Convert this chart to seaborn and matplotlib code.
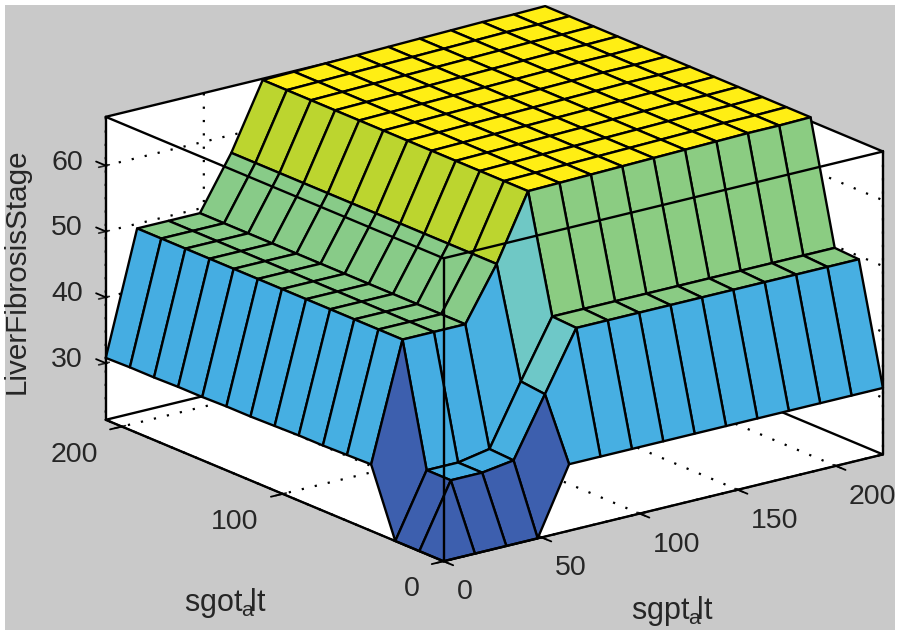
import numpy as np
import matplotlib
matplotlib.use("Agg")
import matplotlib.pyplot as plt
from matplotlib.colors import LinearSegmentedColormap, Normalize
from matplotlib.patches import Rectangle
from mpl_toolkits.mplot3d import proj3d
import seaborn as sns

sgpt_grid = [0, 16, 32, 48, 64, 80, 96, 112, 128, 144, 160, 176, 192, 208, 224]
sgot_grid = [0, 15, 30, 45, 60, 75, 90, 105, 120, 135, 150, 165, 180, 195, 210]

# one row per sgot value, one column per sgpt value
stage = [
    [21.4, 21.4, 21.4, 21.4, 31.5, 31.5, 31.5, 31.5, 31.5, 31.5, 31.5, 31.5, 31.5, 31.5, 31.5],
    [21.4, 31.0, 31.0, 31.7, 40.6, 49.5, 49.5, 49.5, 49.5, 49.5, 49.5, 49.5, 49.5, 49.5, 49.5],
    [21.4, 31.0, 31.0, 31.9, 41.0, 49.7, 49.7, 49.7, 49.7, 49.7, 49.7, 49.7, 49.7, 49.7, 49.7],
    [31.5, 49.3, 49.3, 49.3, 57.3, 67.2, 67.3, 67.4, 67.5, 67.6, 67.7, 67.8, 67.9, 67.9, 68.0],
    [31.4, 49.3, 49.3, 49.3, 57.3, 67.2, 67.3, 67.4, 67.5, 67.6, 67.7, 67.8, 67.9, 67.9, 68.0],
    [31.3, 49.3, 49.3, 49.3, 57.3, 67.2, 67.3, 67.4, 67.5, 67.6, 67.7, 67.8, 67.9, 67.9, 68.0],
    [31.3, 49.3, 49.3, 49.3, 57.3, 67.2, 67.3, 67.4, 67.5, 67.6, 67.7, 67.8, 67.9, 67.9, 68.0],
    [31.2, 49.3, 49.3, 49.3, 57.3, 67.2, 67.3, 67.4, 67.5, 67.6, 67.7, 67.8, 67.9, 67.9, 68.0],
    [31.1, 49.3, 49.3, 49.3, 57.3, 67.2, 67.3, 67.4, 67.5, 67.6, 67.7, 67.8, 67.9, 67.9, 68.0],
    [31.1, 49.3, 49.3, 49.3, 57.3, 67.2, 67.3, 67.4, 67.5, 67.6, 67.7, 67.8, 67.9, 67.9, 68.0],
    [31.0, 49.3, 49.3, 49.3, 57.3, 67.2, 67.3, 67.4, 67.5, 67.6, 67.7, 67.8, 67.9, 67.9, 68.0],
    [31.0, 49.3, 49.3, 49.3, 57.3, 67.2, 67.3, 67.4, 67.5, 67.6, 67.7, 67.8, 67.9, 67.9, 68.0],
    [30.9, 49.3, 49.3, 49.3, 57.3, 67.2, 67.3, 67.4, 67.5, 67.6, 67.7, 67.8, 67.9, 67.9, 68.0],
    [30.9, 49.3, 49.3, 49.3, 57.3, 67.2, 67.3, 67.4, 67.5, 67.6, 67.7, 67.8, 67.9, 67.9, 68.0],
    [30.8, 49.3, 49.3, 49.3, 57.3, 67.2, 67.3, 67.4, 67.5, 67.6, 67.7, 67.8, 67.9, 67.9, 68.0],
]

x_ticks = [0, 50, 100, 150, 200]
y_ticks = [0, 100, 200]
z_ticks = [30, 40, 50, 60]
x_lim = (0, 224)
y_lim = (0, 210)
z_lim = (21.4, 67.4)

level_positions = [0.0, 0.21, 0.42, 0.61, 0.78, 1.0]
level_colors = ["#3D5FAE", "#45AEE3", "#6EC8C8", "#88CB87", "#BBD530", "#FFEE14"]

sns.set_theme(style="white")
plt.rcParams["font.family"] = ["Liberation Sans", "DejaVu Sans"]
plt.rcParams["mathtext.default"] = "regular"

BG = "#C9C9C9"
TXT = "#262626"
FS = 20.5

fig = plt.figure(figsize=(9, 6.36), dpi=100, facecolor="white")
fig.add_artist(Rectangle((5 / 900, 6 / 636), 890 / 900, 625 / 636, transform=fig.transFigure,
                         facecolor=BG, edgecolor="none", zorder=-5))

ax = fig.add_axes([25 / 900, -119 / 636, 914 / 900, 914 / 636], projection="3d",
                  proj_type="ortho", computed_zorder=False)
ax.patch.set_alpha(0)
ax.view_init(elev=18.6, azim=-127.3)
ax.set_box_aspect((553, 558, 320), zoom=0.9)
ax.set_xlim(*x_lim)
ax.set_ylim(*y_lim)
ax.set_zlim(*z_lim)

X, Y = np.meshgrid(sgpt_grid, sgot_grid)
Z = np.array(stage)
cmap = LinearSegmentedColormap.from_list("fis", list(zip(level_positions, level_colors)))
face = cmap(Normalize(z_lim[0], 67.2, clip=True)(Z))
ax.plot_surface(X, Y, Z, facecolors=face, rstride=1, cstride=1, shade=False,
                edgecolor="black", linewidth=1.7, antialiased=True, zorder=3)

# box outline
x0, x1 = x_lim
y0, y1 = y_lim
z0, z1 = z_lim
back = [([x0, x1], [y1, y1], [z0, z0]), ([x1, x1], [y0, y1], [z0, z0]),
        ([x0, x1], [y1, y1], [z1, z1]), ([x1, x1], [y0, y1], [z1, z1])]
front = [([x0, x1], [y0, y0], [z0, z0]), ([x0, x0], [y0, y1], [z0, z0]),
         ([x0, x1], [y0, y0], [z1, z1]), ([x0, x0], [y0, y1], [z1, z1]),
         ([x0, x0], [y0, y0], [z0, z1]), ([x0, x0], [y1, y1], [z0, z1]),
         ([x1, x1], [y0, y0], [z0, z1])]
for xs, ys, zs in back:
    ax.plot(xs, ys, zs, color="black", lw=1.7, zorder=1)
for xs, ys, zs in front:
    ax.plot(xs, ys, zs, color="black", lw=1.7, zorder=5)

ax.set_xticks(x_ticks)
ax.set_yticks(y_ticks)
ax.set_zticks(z_ticks)
ax.set_xticklabels([])
ax.set_yticklabels([])
ax.set_zticklabels([])
for axis in (ax.xaxis, ax.yaxis, ax.zaxis):
    axis.set_pane_color("white")
    axis.pane.set_edgecolor("white")
    axis.line.set_color("black")
    axis._axinfo["grid"].update(color="black", linewidth=1.6, linestyle=(0, (1, 5)))


def tick_label(x, y, z, text, dx, dy, ha):
    px, py, _ = proj3d.proj_transform(x, y, z, ax.get_proj())
    ax.annotate(text, xy=(px, py), xytext=(dx * 0.72, dy * 0.72), textcoords="offset points",
                ha=ha, va="center", fontsize=FS, color=TXT, annotation_clip=False)


# tick marks stick out of the box a little
for t in x_ticks:
    ax.plot([t, t], [y0, y0 - 6], [z0, z0], color="black", lw=1.3, zorder=4)
    tick_label(t, y0, z0, str(t), 13, -31, "left")
for t in y_ticks:
    ax.plot([x0, x0 - 6], [t, t], [z0, z0], color="black", lw=1.3, zorder=4)
    tick_label(x0, t, z0, str(t), -24, -28, "right")
for t in z_ticks:
    ax.plot([x0, x0], [y1, y1 + 6], [t, t], color="black", lw=1.3, zorder=4)
    tick_label(x0, y1, t, str(t), -23, 3, "right")

fig.text(17 / 900, 1 - 271 / 636, "LiverFibrosisStage", rotation=90, ha="center", va="center",
         fontsize=21.3, color=TXT)
fig.text(225 / 900, 1 - 603 / 636, r"sgot$_{a}\!$lt", ha="center", va="center", fontsize=22, color=TXT)
fig.text(672 / 900, 1 - 611 / 636, r"sgpt$_{a}\!$lt", ha="center", va="center", fontsize=22, color=TXT)

fig.savefig("out.png", dpi=100, facecolor=fig.get_facecolor())
